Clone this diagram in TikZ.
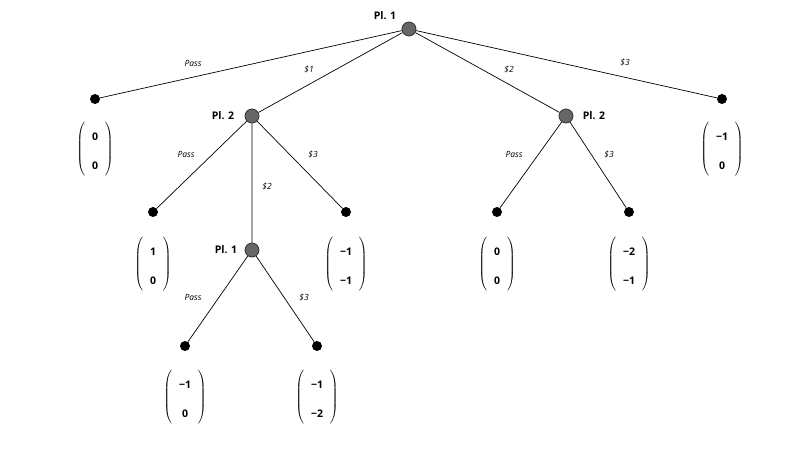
\documentclass[tikz,border=0pt]{standalone}
\usepackage{fontspec}
\setmainfont{Open Sans}
\begin{document}
\begin{tikzpicture}[x=1pt,y=-1pt,
  dec/.style={circle,fill=black!60,draw=black!80,line width=0.8pt,minimum size=14pt,inner sep=0},
  leaf/.style={circle,fill=black,minimum size=10pt,inner sep=0},
  lab/.style={font=\itshape\fontsize{8.5}{10}\selectfont},
  pl/.style={font=\bfseries\fontsize{10.5}{12}\selectfont},
  pay/.style={inner sep=0,font=\bfseries\fontsize{10.5}{12}\selectfont},
  edge/.style={line width=0.7pt}]
\useasboundingbox (0,0) rectangle (807,467);
\newcommand{\vect}[2]{$\left(\renewcommand{\arraystretch}{2.4}\begin{array}{@{\hspace{7pt}}c@{\hspace{7pt}}}\mbox{#1}\\\mbox{#2}\end{array}\right)$}
\node[dec] (r) at (409,29) {};
\node[leaf] (lp) at (95,99) {};
\node[dec] (a) at (252,116) {};
\node[dec] (b) at (566,116) {};
\node[leaf] (l3) at (722,99) {};
\node[leaf] (ap) at (153,212) {};
\node[dec] (c) at (252,250) {};
\node[leaf] (a3) at (346,212) {};
\node[leaf] (bp) at (497,212) {};
\node[leaf] (b3) at (629,212) {};
\node[leaf] (cp) at (185,346) {};
\node[leaf] (c3) at (317,346) {};
\draw[edge] (r) -- (lp) (r) -- (a) (r) -- (b) (r) -- (l3)
  (a) -- (ap) (a) -- (c) (a) -- (a3) (b) -- (bp) (b) -- (b3)
  (c) -- (cp) (c) -- (c3);
\node[pl] (t1) at (385,16) {Pl. 1};
\node[pl] (t2) at (223,116) {Pl. 2};
\node[pl] (t3) at (594,116) {Pl. 2};
\node[pl] (t4) at (226,250) {Pl. 1};
\node[lab] (e1) at (193,64) {Pass};
\node[lab] (e2) at (309,70) {\$1};
\node[lab] (e3) at (509,70) {\$2};
\node[lab] (e4) at (625,63) {\$3};
\node[lab] (e5) at (186,155) {Pass};
\node[lab] (e6) at (313,155) {\$3};
\node[lab] (e7) at (267,187) {\$2};
\node[lab] (e8) at (514,155) {Pass};
\node[lab] (e9) at (609,155) {\$3};
\node[lab] (e10) at (193,298) {Pass};
\node[lab] (e11) at (304,298) {\$3};
\node[pay] (p1) at (95,149) {\vect{0}{0}};
\node[pay] (p2) at (722,149) {\vect{−1}{0}};
\node[pay] (p3) at (153,264) {\vect{1}{0}};
\node[pay] (p4) at (346,264) {\vect{−1}{−1}};
\node[pay] (p5) at (497,264) {\vect{0}{0}};
\node[pay] (p6) at (629,264) {\vect{−2}{−1}};
\node[pay] (p7) at (185,397) {\vect{−1}{0}};
\node[pay] (p8) at (317,397) {\vect{−1}{−2}};
\end{tikzpicture}
\end{document}
